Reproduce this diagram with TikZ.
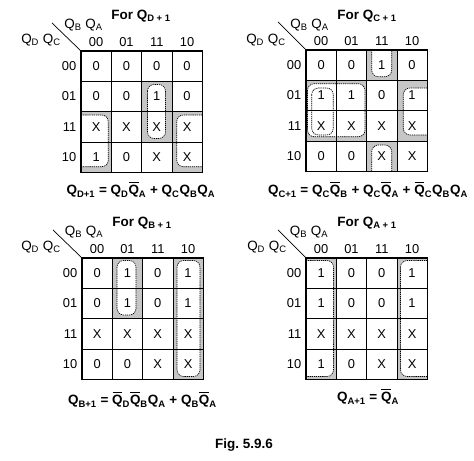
\documentclass[tikz,border=0pt]{standalone}
\usepackage{fontspec}
\setmainfont{Liberation Sans}
\usetikzlibrary{positioning}

\newcommand{\qs}[1]{Q\textsubscript{#1}}
\newcommand{\qb}[1]{\leavevmode\rlap{\kern0.03em\rule[0.86em]{0.72em}{0.085em}}Q\textsubscript{#1}}

\tikzset{
	cell/.style={draw=black, line width=0.6pt, minimum size=0.909cm, inner sep=0pt, font=\fontsize{11}{13}\selectfont},
	hdr/.style={inner sep=1pt, font=\fontsize{11}{13}\selectfont},
	lbl/.style={inner sep=0pt, font=\fontsize{11.5}{13}\selectfont},
	ttl/.style={anchor=base, inner sep=0pt, font=\fontsize{11.5}{13}\selectfont\bfseries},
	grp/.style={fill=gray!45},
	ring/.style={draw=black, dash pattern=on 1.1pt off 0.7pt, line width=0.55pt, fill=white, rounded corners=0.2cm},
}

\begin{document}
\begin{tikzpicture}[x=0.03cm, y=-0.03cm]
		\useasboundingbox (0,0) rectangle (474,461);
		
		% map for Q_D+1
		\begin{scope}[shift={(81,51)}]
			\fill[grp] (60.6,30.3) rectangle (90.9,90.9);
			\fill[grp] (0,60.6) rectangle (30.3,121.2);
			\fill[grp] (90.9,60.6) rectangle (121.2,121.2);
			\draw[ring] (66.5,33.5) rectangle (84.5,87.5);
			\draw[ring] (0,64) -- (27.3,64) -- (27.3,115.7) -- (0,115.7);
			\draw[ring] (121.2,64) -- (95.7,64) -- (95.7,115.7) -- (121.2,115.7);
			\foreach \v [count=\i from 0] in {0,0,0,0, 0,0,1,0, X,X,X,X, 1,0,X,X}{
				\pgfmathtruncatemacro{\col}{mod(\i,4)}
				\pgfmathtruncatemacro{\row}{div(\i,4)}
				\node[cell] (d-\i) at ({(\col+0.5)*30.3},{(\row+0.5)*30.3}) {\v};
			}
			\foreach \h [count=\i from 0] in {00,01,11,10}{
				\pgfmathtruncatemacro{\j}{4*\i}
				\node[hdr, above=2.5pt of d-\i] (d-col\i) {\h};
				\node[hdr, left=2.5pt of d-\j] (d-row\i) {\h};
			}
			\draw[line width=1.4pt] (d-0.north west) rectangle (d-15.south east);
			\coordinate (d-tip) at (-29,-28);
			\draw[line width=0.6pt] (d-tip) -- (d-0.north west);
			\node[lbl] (d-ba) at (2.5,-26) {\qs{B} \qs{A}};
			\node[lbl] (d-dc) at (-40,-11) {\qs{D} \qs{C}};
			\node[ttl] (d-ttl) at (60,-31.5) {For \qs{D + 1}};
			\node[ttl] (d-eq) at (60,144) {\qs{D+1} = \qs{D}\qb{A} + \qs{C}\qs{B}\qs{A}};
		\end{scope}
		
		% map for Q_C+1
		\begin{scope}[shift={(306,50)}]
			\fill[grp] (60.6,0) rectangle (90.9,30.3);
			\fill[grp] (60.6,90.9) rectangle (90.9,121.2);
			\fill[grp] (0,30.3) rectangle (60.6,90.9);
			\fill[grp] (90.9,30.3) rectangle (121.2,90.9);
			\draw[ring] (65.7,0) -- (65.7,26.7) -- (85.7,26.7) -- (85.7,0);
			\draw[ring] (65.7,121.2) -- (65.7,95) -- (85.7,95) -- (85.7,121.2);
			\draw[ring] (1.5,33.7) rectangle (59,86.7);
			\draw[ring] (5.7,38) rectangle (27.3,85);
			\draw[ring] (121.2,38) -- (97.3,38) -- (97.3,85) -- (121.2,85);
			\foreach \v [count=\i from 0] in {0,0,1,0, 1,1,0,1, X,X,X,X, 0,0,X,X}{
				\pgfmathtruncatemacro{\col}{mod(\i,4)}
				\pgfmathtruncatemacro{\row}{div(\i,4)}
				\node[cell] (c-\i) at ({(\col+0.5)*30.3},{(\row+0.5)*30.3}) {\v};
			}
			\foreach \h [count=\i from 0] in {00,01,11,10}{
				\pgfmathtruncatemacro{\j}{4*\i}
				\node[hdr, above=2.5pt of c-\i] (c-col\i) {\h};
				\node[hdr, left=2.5pt of c-\j] (c-row\i) {\h};
			}
			\draw[line width=1.4pt] (c-0.north west) rectangle (c-15.south east);
			\coordinate (c-tip) at (-28,-28);
			\draw[line width=0.6pt] (c-tip) -- (c-0.north west);
			\node[lbl] (c-ba) at (3.5,-25) {\qs{B} \qs{A}};
			\node[lbl] (c-dc) at (-40,-10) {\qs{D} \qs{C}};
			\node[ttl] (c-ttl) at (61,-30.5) {For \qs{C + 1}};
			\node[ttl] (c-eq) at (62,145) {\qs{C+1} = \qs{C}\qb{B} + \qs{C}\qb{A} + \qb{C}\qs{B}\qs{A}};
		\end{scope}
		
		% map for Q_B+1
		\begin{scope}[shift={(82,258)}]
			\fill[grp] (30.3,0) rectangle (60.6,60.6);
			\fill[grp] (90.9,0) rectangle (121.2,121.2);
			\draw[ring] (35,2.5) rectangle (54,57);
			\draw[ring] (95,2.5) rectangle (118,118.5);
			\foreach \v [count=\i from 0] in {0,1,0,1, 0,1,0,1, X,X,X,X, 0,0,X,X}{
				\pgfmathtruncatemacro{\col}{mod(\i,4)}
				\pgfmathtruncatemacro{\row}{div(\i,4)}
				\node[cell] (b-\i) at ({(\col+0.5)*30.3},{(\row+0.5)*30.3}) {\v};
			}
			\foreach \h [count=\i from 0] in {00,01,11,10}{
				\pgfmathtruncatemacro{\j}{4*\i}
				\node[hdr, above=2.5pt of b-\i] (b-col\i) {\h};
				\node[hdr, left=2.5pt of b-\j] (b-row\i) {\h};
			}
			\draw[line width=1.4pt] (b-0.north west) rectangle (b-15.south east);
			\coordinate (b-tip) at (-29,-28);
			\draw[line width=0.6pt] (b-tip) -- (b-0.north west);
			\node[lbl] (b-ba) at (2,-26) {\qs{B} \qs{A}};
			\node[lbl] (b-dc) at (-41,-11) {\qs{D} \qs{C}};
			\node[ttl] (b-ttl) at (60,-31.5) {For \qs{B + 1}};
			\node[ttl] (b-eq) at (60.5,147) {\qs{B+1} = \qb{D}\qb{B}\qs{A} + \qs{B}\qb{A}};
		\end{scope}
		
		% map for Q_A+1
		\begin{scope}[shift={(306,258)}]
			\fill[grp] (0,0) rectangle (30.3,121.2);
			\fill[grp] (90.9,0) rectangle (121.2,121.2);
			\draw[ring] (0,2.5) -- (27.5,2.5) -- (27.5,118.5) -- (0,118.5);
			\draw[ring] (121.2,2.5) -- (94.5,2.5) -- (94.5,118.5) -- (121.2,118.5);
			\foreach \v [count=\i from 0] in {1,0,0,1, 1,0,0,1, X,X,X,X, 1,0,X,X}{
				\pgfmathtruncatemacro{\col}{mod(\i,4)}
				\pgfmathtruncatemacro{\row}{div(\i,4)}
				\node[cell] (a-\i) at ({(\col+0.5)*30.3},{(\row+0.5)*30.3}) {\v};
			}
			\foreach \h [count=\i from 0] in {00,01,11,10}{
				\pgfmathtruncatemacro{\j}{4*\i}
				\node[hdr, above=2.5pt of a-\i] (a-col\i) {\h};
				\node[hdr, left=2.5pt of a-\j] (a-row\i) {\h};
			}
			\draw[line width=1.4pt] (a-0.north west) rectangle (a-15.south east);
			\coordinate (a-tip) at (-28,-28);
			\draw[line width=0.6pt] (a-tip) -- (a-0.north west);
			\node[lbl] (a-ba) at (3,-26) {\qs{B} \qs{A}};
			\node[lbl] (a-dc) at (-39,-11) {\qs{D} \qs{C}};
			\node[ttl] (a-ttl) at (61,-31.5) {For \qs{A + 1}};
			\node[ttl] (a-eq) at (62,144) {\qs{A+1} = \qb{A}};
		\end{scope}
		
		\node[ttl] (fig) at (244,449) {Fig.\ 5.9.6};
	\end{tikzpicture}
\end{document}
